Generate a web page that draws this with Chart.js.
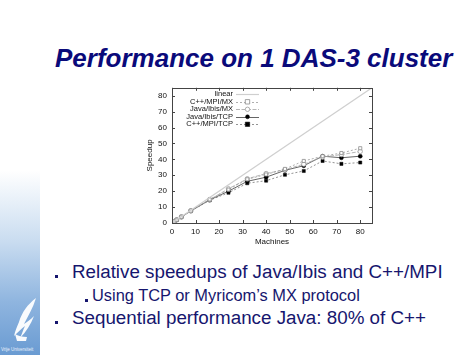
<!DOCTYPE html>
<html>
<head>
<meta charset="utf-8">
<script src="https://cdn.jsdelivr.net/npm/chart.js@4/dist/chart.umd.min.js"></script>
<style>
  html, body { margin: 0; padding: 0; }
  body { width: 474px; height: 355px; position: relative; overflow: hidden; background: #fff; font-family: "Liberation Sans", Arial, sans-serif; }
  #strip { position: absolute; left: 0; top: 0; width: 40px; height: 355px;
    background: linear-gradient(to bottom, #ffffff 0%, #ffffff 48%, #c9dcf0 68%, #8fb5df 85%, #6a9bd2 100%); }
  #title { position: absolute; left: 55px; top: 43px; font-size: 26px; font-weight: bold; font-style: italic; color: #0a0a7a; white-space: nowrap; }
  .b { position: absolute; white-space: nowrap; color: #16166e; }
  .dot { position: absolute; width: 3px; height: 3px; background: #16166e; }
  #chartBox { position: absolute; left: 138px; top: 78px; }
  #vu { position: absolute; left: 1px; top: 347px; font-size: 4.5px; color: #e8f0fa; white-space: nowrap; }
</style>
</head>
<body>
<div id="strip"></div>
<svg style="position:absolute;left:6px;top:296px" width="34" height="50" viewBox="0 0 34 50">
  <path d="M30 2 C22 8 16 16 13 26 C11 31 9 35 8 40 C12 36 15 33 19 30 C17 34 16 38 14 42 C20 36 25 28 28 20 C24 24 21 26 18 28 C22 20 27 12 30 2 Z" fill="#ffffff" opacity="0.95"/>
  <path d="M9 38 C12 40 16 41 21 41 L20 45 L11 45 Z" fill="#ffffff" opacity="0.95"/>
</svg>
<div id="vu">Vrije Universiteit</div>
<div id="title">Performance on 1 DAS-3 cluster</div>

<div class="dot" style="left:55px;top:275px"></div>
<div class="b" style="left:72px;top:261px;font-size:18.8px">Relative speedups of Java/Ibis and C++/MPI</div>
<div class="dot" style="left:85px;top:299px"></div>
<div class="b" style="left:92px;top:286px;font-size:16.4px">Using TCP or Myricom’s MX protocol</div>
<div class="dot" style="left:55px;top:321px"></div>
<div class="b" style="left:72px;top:307px;font-size:18.8px">Sequential performance Java: 80% of C++</div>

<div id="chartBox"><canvas id="c" width="244" height="178"></canvas></div>

<script>
// ---- data ----
const machines     = [1, 2, 4, 8, 16, 24, 32, 40, 48, 56, 64, 72, 80];
const linearX      = [0, 85];
const linearY      = [0, 85];
const cppMpiMx     = [1, 2, 3.9, 7.8, 14.8, 21.0, 27.5, 30.5, 34.0, 39.0, 42.0, 44.0, 47.0];
const javaIbisMx   = [1, 2, 3.9, 7.7, 14.7, 21.5, 27.8, 31.1, 33.5, 37.0, 41.5, 43.0, 45.0];
const javaIbisTcp  = [1, 2, 3.8, 7.6, 14.5, 20.0, 26.2, 28.8, 33.1, 36.0, 42.0, 41.0, 42.0];
const cppMpiTcp    = [0.9, 1.9, 3.7, 7.5, 14.3, 19.0, 25.0, 26.6, 30.3, 32.7, 39.0, 37.2, 38.0];
const seriesNames  = ['linear', 'C++/MPI/MX', 'Java/Ibis/MX', 'Java/Ibis/TCP', 'C++/MPI/TCP'];
const xTickValues  = [0, 10, 20, 30, 40, 50, 60, 70, 80];
const yTickValues  = [0, 10, 20, 30, 40, 50, 60, 70, 80];

const pts = (xs, ys) => xs.map((x, i) => ({x: x, y: ys[i]}));

const FONT = '"Liberation Sans", Arial, sans-serif';

const frameTicks = {
  id: 'frameTicks',
  afterDatasetsDraw(chart) {
    const {ctx, chartArea: a, scales} = chart;
    ctx.save();
    ctx.strokeStyle = '#444';
    ctx.lineWidth = 1;
    ctx.strokeRect(Math.round(a.left) + 0.5, Math.round(a.top) + 0.5, Math.round(a.right - a.left), Math.round(a.bottom - a.top));
    const L = 3;
    ctx.beginPath();
    scales.x.ticks.forEach(t => {
      const px = Math.round(scales.x.getPixelForValue(t.value)) + 0.5;
      ctx.moveTo(px, a.bottom); ctx.lineTo(px, a.bottom - L);
      ctx.moveTo(px, a.top); ctx.lineTo(px, a.top + L);
    });
    scales.y.ticks.forEach(t => {
      const py = Math.round(scales.y.getPixelForValue(t.value)) + 0.5;
      ctx.moveTo(a.left, py); ctx.lineTo(a.left + L, py);
      ctx.moveTo(a.right, py); ctx.lineTo(a.right - L, py);
    });
    ctx.stroke();

    // key inside the plot, gnuplot style: right-aligned text, sample on the right
    ctx.font = '7.5px ' + FONT;
    ctx.textAlign = 'right';
    ctx.textBaseline = 'middle';
    const textRight = a.left + 61;
    const x0 = a.left + 64, x1 = a.left + 87, xm = (x0 + x1) / 2;
    chart.data.datasets.forEach((ds, i) => {
      const y = a.top + 6.5 + i * 7.5;
      ctx.fillStyle = '#111';
      ctx.fillText(ds.label, textRight, y);
      ctx.save();
      ctx.strokeStyle = ds.borderColor;
      ctx.lineWidth = ds.borderWidth;
      ctx.setLineDash(ds.borderDash || []);
      ctx.beginPath(); ctx.moveTo(x0, Math.round(y) + 0.5); ctx.lineTo(x1, Math.round(y) + 0.5); ctx.stroke();
      ctx.restore();
      if (ds.pointStyle && ds.pointRadius > 0) {
        ctx.save();
        ctx.fillStyle = ds.pointBackgroundColor; ctx.strokeStyle = ds.pointBorderColor; ctx.lineWidth = ds.pointBorderWidth;
        ctx.beginPath();
        if (ds.pointStyle === 'circle') ctx.arc(xm, y, ds.pointRadius, 0, Math.PI * 2);
        else ctx.rect(xm - ds.pointRadius, y - ds.pointRadius, ds.pointRadius * 2, ds.pointRadius * 2);
        ctx.fill(); ctx.stroke();
        ctx.restore();
      }
    });
    ctx.restore();
  }
};

new Chart(document.getElementById('c'), {
  type: 'line',
  data: {
    datasets: [
      { label: seriesNames[0], data: pts(linearX, linearY), borderColor: '#cfcfcf', borderWidth: 1.2,
        pointRadius: 0, pointStyle: false, fill: false },
      { label: seriesNames[1], data: pts(machines, cppMpiMx), borderColor: '#9a9a9a', borderWidth: 0.8, borderDash: [2, 2],
        pointStyle: 'rect', pointRadius: 2.2, pointBackgroundColor: '#fff', pointBorderColor: '#8a8a8a', pointBorderWidth: 0.8 },
      { label: seriesNames[2], data: pts(machines, javaIbisMx), borderColor: '#a5a5a5', borderWidth: 0.8, borderDash: [4, 1.5],
        pointStyle: 'circle', pointRadius: 2.2, pointBackgroundColor: '#fff', pointBorderColor: '#9a9a9a', pointBorderWidth: 0.8 },
      { label: seriesNames[3], data: pts(machines, javaIbisTcp), borderColor: '#555', borderWidth: 0.9,
        pointStyle: 'circle', pointRadius: 2, pointBackgroundColor: '#000', pointBorderColor: '#000', pointBorderWidth: 0.5 },
      { label: seriesNames[4], data: pts(machines, cppMpiTcp), borderColor: '#777', borderWidth: 0.8, borderDash: [2, 2],
        pointStyle: 'rect', pointRadius: 2.2, pointBackgroundColor: '#000', pointBorderColor: '#000', pointBorderWidth: 0.5 }
    ]
  },
  options: {
    responsive: false,
    animation: false,
    devicePixelRatio: 1,
    layout: { padding: { top: 6, right: 10, left: 0, bottom: 0 } },
    plugins: { legend: { display: false }, tooltip: { enabled: false } },
    scales: {
      x: {
        type: 'linear', min: 0, max: 85,
        afterFit(s) { s.height = 33; },
        afterBuildTicks(s) { s.ticks = xTickValues.map(v => ({value: v})); },
        grid: { display: false, drawTicks: false },
        border: { display: false },
        ticks: { font: { size: 8, family: FONT }, color: '#111', padding: 4, maxRotation: 0 },
        title: { display: true, text: 'Machines', font: { size: 8, family: FONT }, color: '#111', padding: { top: 0, bottom: 9 } }
      },
      y: {
        type: 'linear', min: 0, max: 85,
        afterFit(s) { s.width = 34; },
        afterBuildTicks(s) { s.ticks = yTickValues.map(v => ({value: v})); },
        grid: { display: false, drawTicks: false },
        border: { display: false },
        ticks: { font: { size: 8, family: FONT }, color: '#111', padding: 5 },
        title: { display: true, text: 'Speedup', font: { size: 8, family: FONT }, color: '#111', padding: { top: 7, bottom: 0 } }
      }
    }
  },
  plugins: [frameTicks]
});
</script>
</body>
</html>
